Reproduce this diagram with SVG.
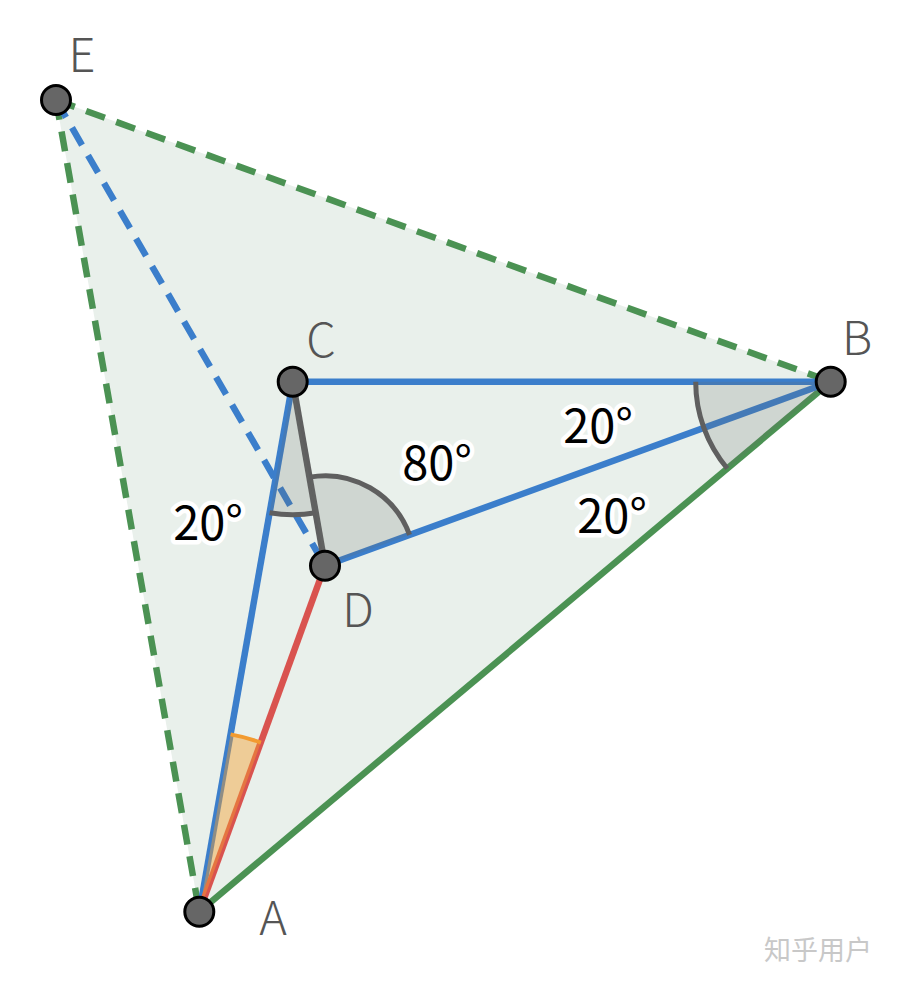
<svg xmlns="http://www.w3.org/2000/svg" width="898" height="982" viewBox="0 0 898 982">
<style>
.g{stroke:#4b9253;stroke-width:6.5;fill:none}
.gd{stroke:#4b9253;stroke-width:6.5;fill:none;stroke-dasharray:20 12}
.b{stroke:#3b7ecb;stroke-width:6.5;fill:none}
.bd{stroke:#3b7ecb;stroke-width:6.5;fill:none;stroke-dasharray:20 12}
.r{stroke:#d9534f;stroke-width:6.5;fill:none}
.k{stroke:#5f5f5f;stroke-width:6.5;fill:none}
.sec{fill:#6a6f6b;fill-opacity:0.2;stroke:none}
.arc{stroke:#5f5f5f;stroke-width:5;fill:none}
.pt{fill:#666;stroke:#000;stroke-width:3}
.lbl{font-family:"Noto Sans CJK SC","Noto Sans",sans-serif;font-size:47px;font-weight:300;fill:#555;text-anchor:middle}
.ang{font-family:"Noto Sans CJK SC","Noto Sans",sans-serif;font-size:47px;font-weight:400;fill:#000;text-anchor:middle;stroke:#fff;stroke-width:9;paint-order:stroke;stroke-linejoin:round}
</style>
<rect width="898" height="982" fill="#fff"/>
<polygon points="56,100 830.7,381.7 199.3,911.7" fill="#e9f0eb"/>
<g id="connectors">
<line class="gd" x1="56" y1="100" x2="830.7" y2="381.7"/>
<line class="gd" x1="56" y1="100" x2="199.3" y2="911.7"/>
<line class="g" x1="199.3" y1="911.7" x2="830.7" y2="381.7"/>
<line class="bd" x1="56" y1="100" x2="325" y2="565.7"/>
<line class="b" x1="292.7" y1="381.7" x2="830.7" y2="381.7"/>
<line class="b" x1="292.7" y1="381.7" x2="199.3" y2="911.7"/>
<line class="b" x1="325" y1="565.7" x2="830.7" y2="381.7"/>
<line class="r" x1="325" y1="565.7" x2="199.3" y2="911.7"/>
<line class="k" x1="292.7" y1="381.7" x2="325" y2="565.7"/>
</g>
<g id="angle-C">
<path class="sec" d="M292.7,381.7 L315.8,512.7 A133,133 0 0 1 269.6,512.7 Z"/>
<path class="arc" d="M315.8,512.7 A133,133 0 0 1 269.6,512.7"/>
</g>
<g id="angle-D">
<path class="sec" d="M325,565.7 L309.4,477.1 A90,90 0 0 1 409.6,534.9 Z"/>
<path class="arc" d="M309.4,477.1 A90,90 0 0 1 409.6,534.9"/>
</g>
<g id="angle-B">
<path class="sec" d="M830.7,381.7 L727.3,468.5 A135,135 0 0 1 695.7,381.7 Z"/>
<path class="arc" d="M727.3,468.5 A135,135 0 0 1 695.7,381.7"/>
</g>
<g id="angle-A">
<path d="M199.3,911.7 L230.6,734.4 A180,180 0 0 1 260.9,742.6 Z" fill="#f5a030" fill-opacity="0.45"/>
<path d="M230.6,734.4 A180,180 0 0 1 260.9,742.6" stroke="#f29b30" stroke-width="4" fill="none"/>
</g>
<g id="node-E"><circle class="pt" cx="56" cy="100" r="14.5"/><text class="lbl" x="82" y="72">E</text></g>
<g id="node-C"><circle class="pt" cx="292.7" cy="381.7" r="14.5"/><text class="lbl" x="321" y="357">C</text></g>
<g id="node-B"><circle class="pt" cx="830.7" cy="381.7" r="14.5"/><text class="lbl" x="857" y="355">B</text></g>
<g id="node-D"><circle class="pt" cx="325" cy="565.7" r="14.5"/><text class="lbl" x="358" y="627">D</text></g>
<g id="node-A"><circle class="pt" cx="199.3" cy="911.7" r="14.5"/><text class="lbl" x="273" y="935">A</text></g>
<g id="angle-labels">
<text class="ang" x="208" y="540">20°</text>
<text class="ang" x="437" y="480">80°</text>
<text class="ang" x="598" y="443">20°</text>
<text class="ang" x="612" y="533">20°</text>
</g>
<text x="818" y="960" font-family="'Noto Sans CJK SC',sans-serif" font-size="27" fill="#c8c8c8" text-anchor="middle">知乎用户</text>
</svg>
